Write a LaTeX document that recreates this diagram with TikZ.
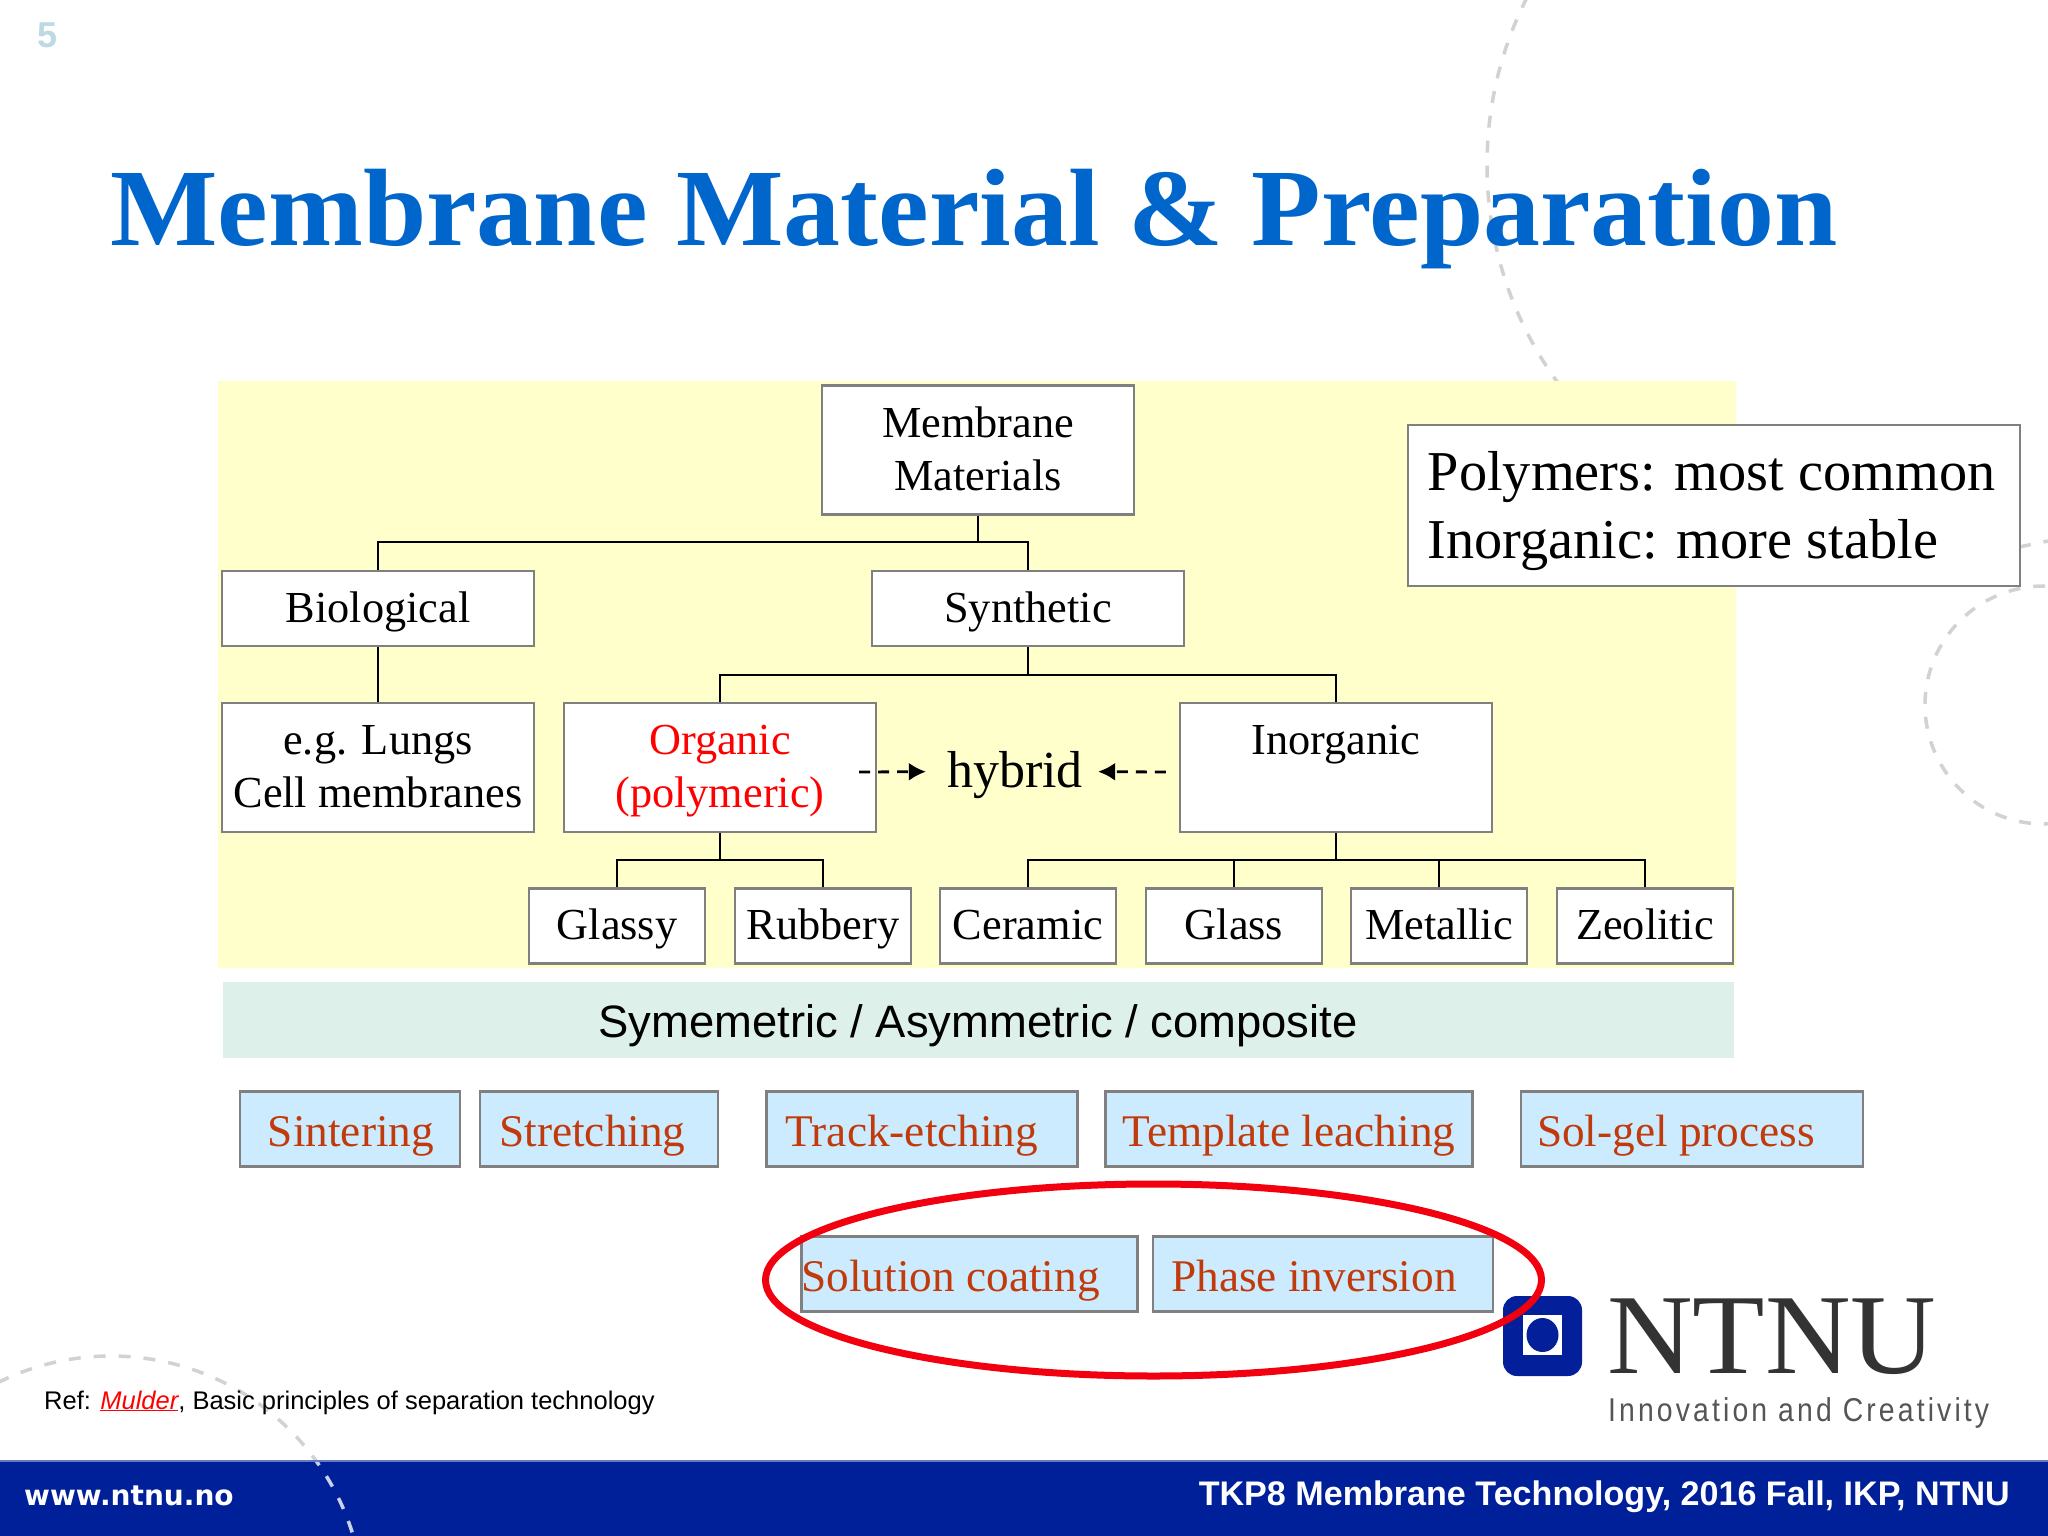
\documentclass[tikz,border=0pt]{standalone}
\usepackage{fontspec}
\setmainfont{Liberation Serif}
\setsansfont{Liberation Sans}
\usetikzlibrary{arrows.meta,shapes.geometric}
\definecolor{titleblue}{HTML}{0066CC}
\definecolor{bandyellow}{HTML}{FFFFCC}
\definecolor{bandgreen}{HTML}{DDF1EA}
\definecolor{procblue}{HTML}{CCEBFF}
\definecolor{procred}{HTML}{C13A0C}
\definecolor{frame}{HTML}{808080}
\definecolor{footer}{HTML}{00209A}
\definecolor{dashgrey}{HTML}{D2D2D2}
\definecolor{dashfoot}{HTML}{C8D2EA}
\definecolor{logoblue}{HTML}{03209A}
\definecolor{logotext}{HTML}{333333}
\definecolor{logosub}{HTML}{555555}
\definecolor{numcol}{HTML}{BDD9E3}
\definecolor{ringred}{HTML}{F2000F}
\tikzset{
  x=1pt,y=-1pt,
  matbox/.style={font=\fontsize{44.3}{53}\selectfont,align=center,inner sep=0pt,draw=frame,line width=2.2pt,fill=white,minimum width=#1},
  oneline/.style={minimum height=75,text height=27pt,text depth=0pt},
  twoline/.style={minimum height=129,text height=80pt,text depth=0pt},
  procbox/.style={font=\fontsize{45.3}{53}\selectfont,inner sep=0pt,draw=frame,line width=2.2pt,fill=procblue,text=procred,minimum width=#1,minimum height=75,text height=34pt,text depth=0pt},
  link/.style={draw=black,line width=2.8pt},
  dashlink/.style={draw=black,line width=2.8pt,dash pattern=on 11pt off 8pt,-{Latex[length=17pt,width=18pt]}},
  deco/.style={draw=dashgrey,line width=3.5pt,dash pattern=on 12pt off 13pt},
}
\begin{document}
\begin{tikzpicture}
\useasboundingbox (0,0) rectangle (2048,1536);
\fill[white] (0,0) rectangle (2048,1536);
% decorative circles
\begin{scope}
  \clip (1400,0) rectangle (1700,400);
  \draw[deco] (1857,165) circle[radius=370];
\end{scope}
\draw[deco] (2044,705) circle[radius=119];
\draw[deco] (2019,547) -- (2048,541);
\draw[deco] (111,1609) circle[radius=253];
% footer
\fill[footer] (0,1461) rectangle (2048,1536);
\draw[line width=1.5pt,draw=footer!60!white] (0,1461) -- (2048,1461);
\begin{scope}
  \clip (0,1462) rectangle (2048,1536);
  \draw[deco,draw=dashfoot] (111,1609) circle[radius=253];
\end{scope}
\node[anchor=west,inner sep=0pt,text=white,font=\fontspec{DejaVu Sans}\bfseries\fontsize{28}{28}\selectfont] (web) at (24,1496) {www.ntnu.no};
\node[anchor=east,inner sep=0pt,text=white,font=\sffamily\bfseries\fontsize{34.1}{34}\selectfont] (course) at (2010,1497) {TKP8 Membrane Technology, 2016 Fall, IKP, NTNU};
% slide number and title
\node[inner sep=0pt,text=numcol,font=\sffamily\bfseries\fontsize{36}{36}\selectfont] (num) at (48,35) {5};
\node[anchor=base west,inner sep=0pt,text=titleblue,font=\bfseries\fontsize{110}{110}\selectfont,xscale=1.035] (title) at (110,245) {Membrane Material \& Preparation};
% panels
\fill[bandyellow] (218,381) rectangle (1736,968);
\node[fill=bandgreen,minimum width=1511,minimum height=76,inner sep=0pt,text height=34pt,text depth=0pt,font=\sffamily\fontsize{45.4}{45}\selectfont] (struct) at (978,1020) {Symemetric / Asymmetric / composite};
% hierarchy
\node[matbox=312,twoline] (mm) at (978,450) {Membrane\\Materials};
\node[matbox=312,oneline] (bio) at (378,608.5) {Biological};
\node[matbox=312,oneline] (syn) at (1028,608.5) {Synthetic};
\node[matbox=312,twoline] (lungs) at (378,767.5) {e.g. Lungs\\Cell membranes};
\node[matbox=312,twoline,text=red] (org) at (720,767.5) {Organic\\(polymeric)};
\node[matbox=312,twoline] (ino) at (1336,767.5) {Inorganic\\\mbox{}};
\node[matbox=176,oneline] (gla) at (617,926) {Glassy};
\node[matbox=176,oneline] (rub) at (823,926) {Rubbery};
\node[matbox=176,oneline] (cer) at (1028,926) {Ceramic};
\node[matbox=176,oneline] (gls) at (1234,926) {Glass};
\node[matbox=176,oneline] (met) at (1439,926) {Metallic};
\node[matbox=176,oneline] (zeo) at (1645,926) {Zeolitic};
\node[anchor=base,inner sep=0pt,font=\fontsize{52}{52}\selectfont] (hyb) at (1015,787.5) {hybrid};
\coordinate (b1) at (mm.south |- 0,542);
\coordinate (b2) at (syn.south |- 0,675);
\coordinate (b3) at (org.south |- 0,860);
\coordinate (b4) at (ino.south |- 0,860);
\draw[link] (mm.south) -- (b1) -| (bio.north);
\draw[link] (b1) -| (syn.north);
\draw[link] (bio.south) -- (lungs.north);
\draw[link] (syn.south) -- (b2) -| (org.north);
\draw[link] (b2) -| (ino.north);
\draw[link] (org.south) -- (b3) -| (gla.north);
\draw[link] (b3) -| (rub.north);
\draw[link] (ino.south) -- (b4) -| (cer.north);
\draw[link] (b4) -| (zeo.north);
\draw[link] (gls.north) -- (gls.north |- b4);
\draw[link] (met.north) -- (met.north |- b4);
\draw[dashlink,shorten >=21pt] ([xshift=-18pt,yshift=-4.5pt]org.east) -- ([yshift=3.5pt]hyb.west);
\draw[dashlink,shorten >=15pt] ([xshift=-13pt,yshift=-4.5pt]ino.west) -- ([yshift=3.5pt]hyb.east);
% callout
\node[draw=frame,line width=2.2pt,fill=white,anchor=north west,minimum width=612,minimum height=161,inner sep=0pt,align=left,text height=106pt,text depth=0pt,font=\fontsize{56.3}{68}\selectfont] (note) at (1407,424) {Polymers: most common\hspace*{5pt}\\Inorganic: more stable};
% processes
\node[procbox=220] (p1) at (350,1129) {\hspace*{2pt}Sintering};
\node[procbox=238] (p2) at (599,1129) {Stretching\hspace*{13pt}};
\node[procbox=311] (p3) at (922,1129) {Track-etching\hspace*{20pt}};
\node[procbox=367] (p4) at (1289,1129) {Template leaching};
\node[procbox=342] (p5) at (1692,1129) {Sol-gel process\hspace*{32pt}};
\node[procbox=336] (p6) at (969.5,1274) {\hspace*{-4pt}Solution coating\hspace*{34pt}};
\node[procbox=340] (p7) at (1323,1274) {Phase inversion\hspace*{18pt}};
% logo
\fill[logoblue,rounded corners=14pt] (1503,1296) rectangle (1582,1376);
\fill[white] (1523,1315) rectangle (1562,1355);
\fill[logoblue] (1542.5,1335) ellipse[x radius=16,y radius=17];
\node[anchor=base west,inner sep=0pt,text=logotext,font=\fontsize{114}{114}\selectfont,xscale=1.04] (ntnu) at (1607,1373) {NTNU};
\node[anchor=base west,inner sep=0pt,text=logosub,font=\sffamily\fontsize{33}{33}\selectfont,xscale=0.86] (slogan) at (1608,1421) {\addfontfeature{LetterSpace=11}Innovation and Creativity};
% selection ellipse
\draw[ringred,line width=7pt] (1153.5,1280) ellipse[x radius=388,y radius=96];
% reference
\node[anchor=base west,inner sep=0pt,font=\sffamily\fontsize{25.5}{27}\selectfont] (ref) at (44,1409) {Ref: {\color{red}\underline{\itshape Mulder}}, Basic principles of separation technology};
\end{tikzpicture}
\end{document}
